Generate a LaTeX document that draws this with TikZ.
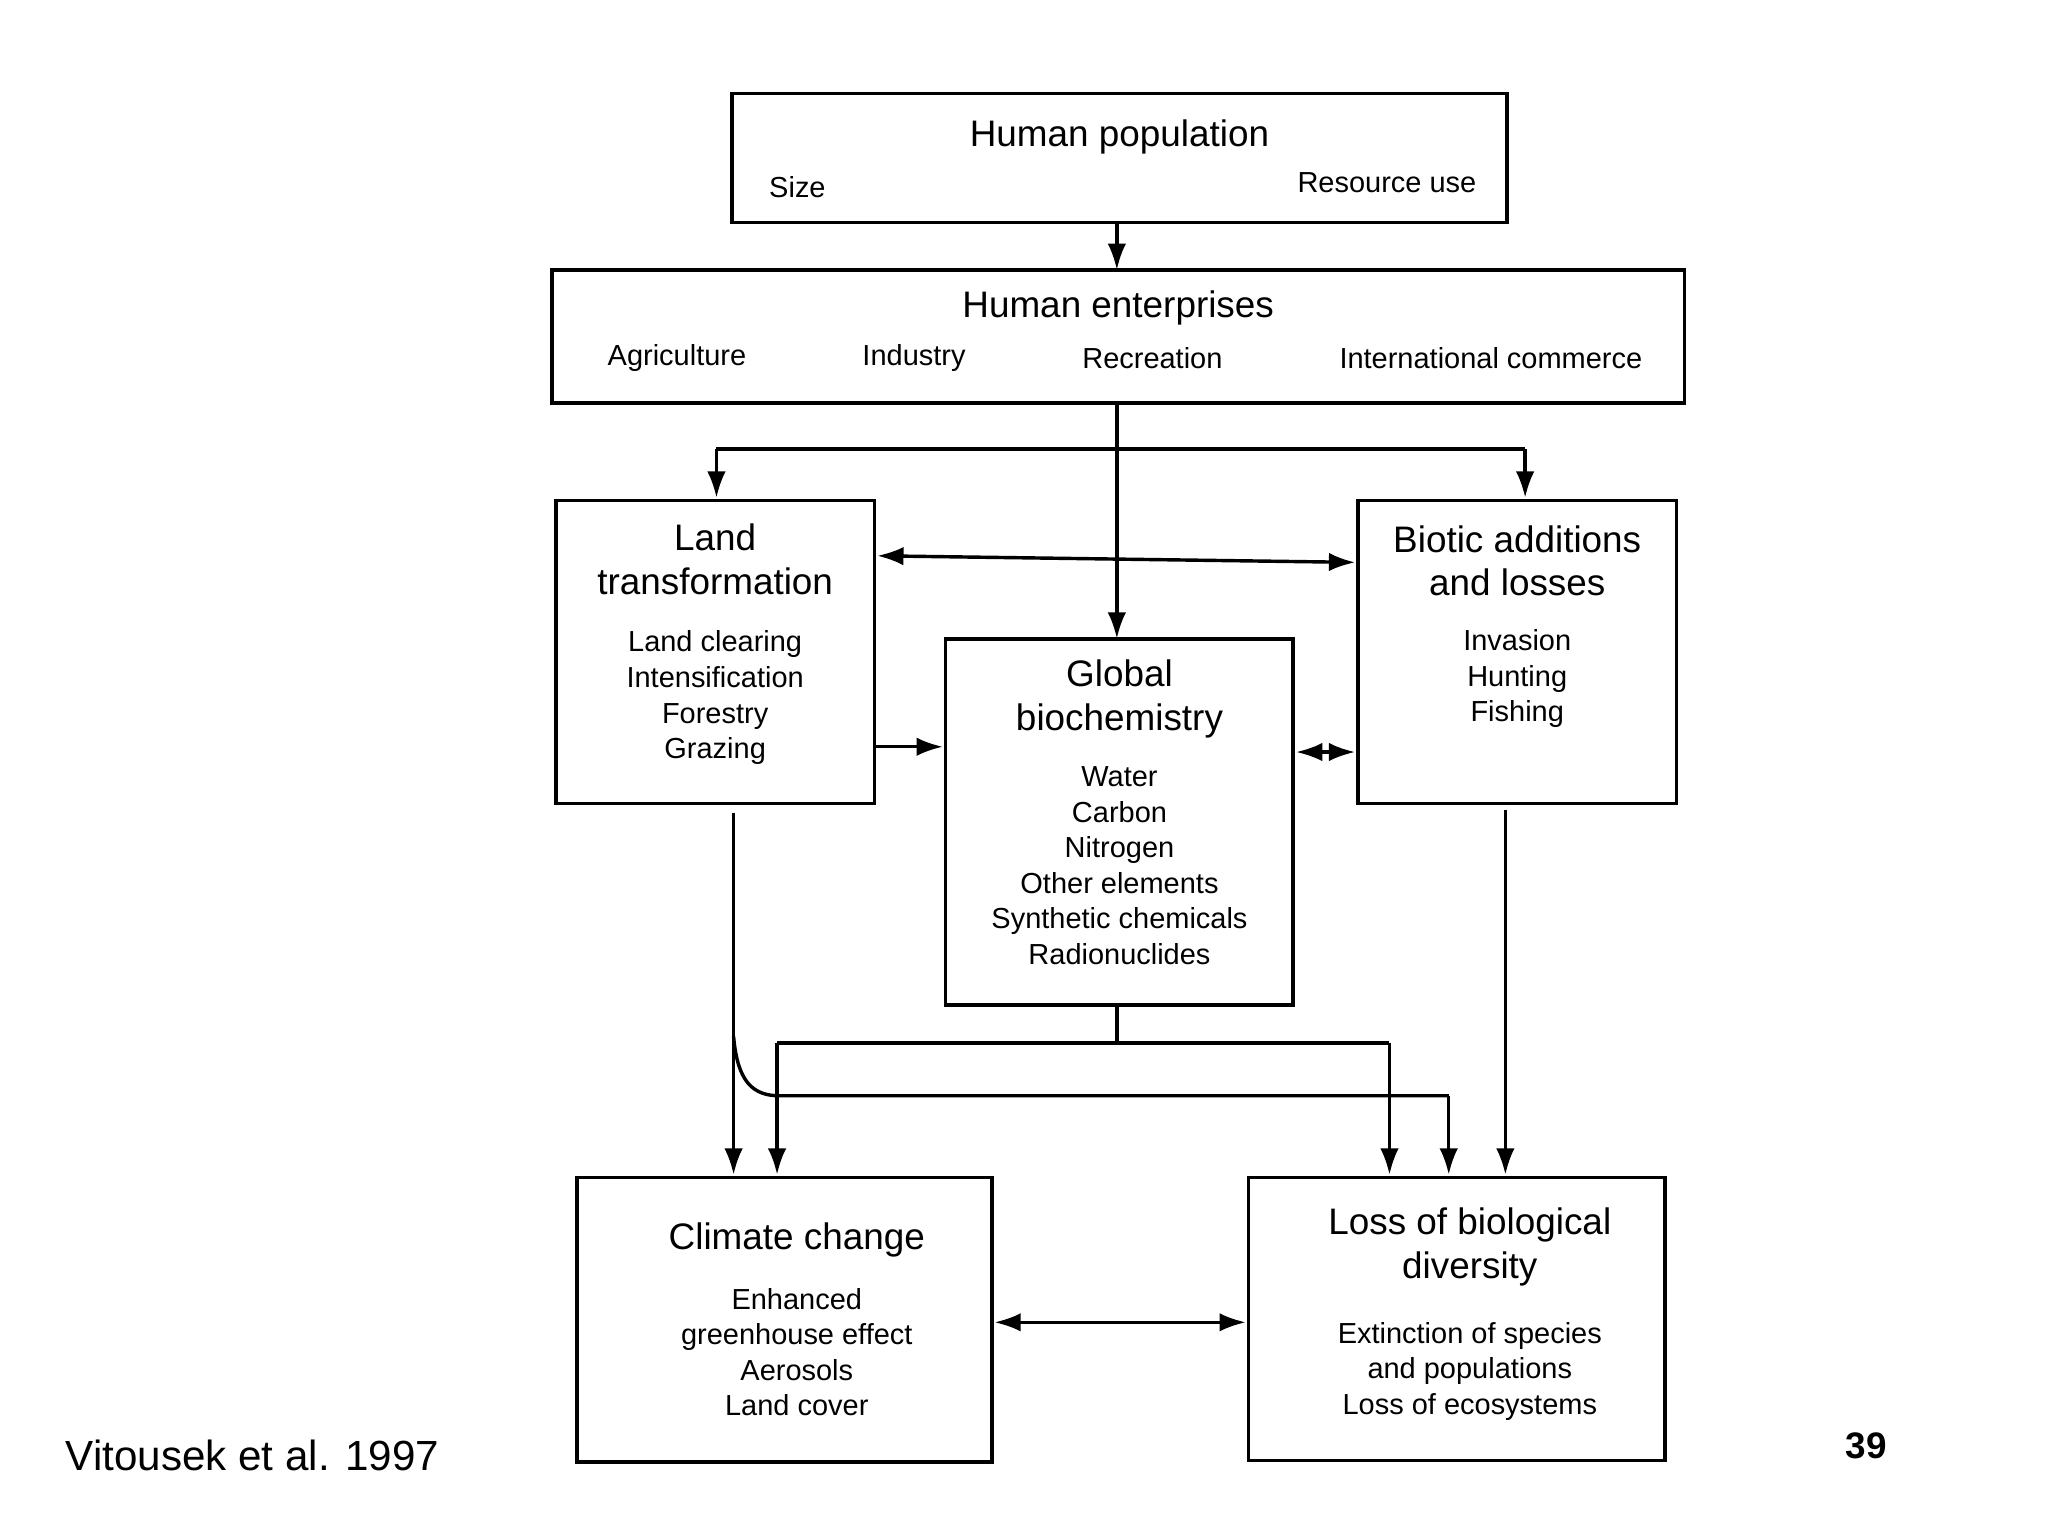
\documentclass[tikz,border=0pt]{standalone}
\usepackage{fontspec}
\setmainfont{Liberation Sans}
\usetikzlibrary{arrows.meta}
\begin{document}
\begin{tikzpicture}[x=0.5pt,y=-0.5pt,
  box/.style={draw,line width=1.4pt},
  ln/.style={line width=1.3pt},
  ar/.style={ln,-{Latex[length=10pt,width=7pt]}},
  dar/.style={ln,{Latex[length=10pt,width=7pt]}-{Latex[length=10pt,width=7pt]}},
  ttl/.style={font=\fontsize{14}{16.5}\selectfont,align=center,anchor=north},
  itm/.style={font=\fontsize{11}{13.5}\selectfont,align=center,anchor=north}]
\useasboundingbox (0,0) rectangle (1555,1166);
\draw[box] (556,71) rectangle (1144,169) node[coordinate] (hpc) {};
\coordinate (hpb) at (848,169);
\node[ttl] (hpt) at (850,84) {Human population};
\node[itm,anchor=west] (sz) at (577,142) {Size};
\node[itm,anchor=east] (ru) at (1128,139) {Resource use};
\draw[box] (419,205) rectangle (1279,306);
\coordinate (het) at (848,205); \coordinate (heb) at (848,306);
\node[ttl] (het2) at (849,214) {Human enterprises};
\node[itm,anchor=center] (ag) at (514,272) {Agriculture};
\node[itm,anchor=center] (in) at (694,272) {Industry};
\node[itm,anchor=center] (re) at (875,272) {Recreation};
\node[itm,anchor=center] (ic) at (1132,272) {International commerce};

\draw[box] (422,380) rectangle (664,610);
\node[ttl] (lt) at (543,391) {Land\\transformation};
\node[itm] (lti) at (543,472) {Land clearing\\Intensification\\Forestry\\Grazing};
\draw[box] (1031,380) rectangle (1273,610);
\node[ttl] (ba) at (1152,392) {Biotic additions\\and losses};
\node[itm] (bai) at (1152,471) {Invasion\\Hunting\\Fishing};
\draw[box] (718,485) rectangle (982,763);
\node[ttl] (gb) at (850,494) {Global\\biochemistry};
\node[itm] (gbi) at (850,575) {Water\\Carbon\\Nitrogen\\Other elements\\Synthetic chemicals\\Radionuclides};
\draw[box] (438,894) rectangle (753,1110);
\node[ttl] (cc) at (605,921) {Climate change};
\node[itm] (cci) at (605,971) {Enhanced\\greenhouse effect\\Aerosols\\Land cover};
\draw[box] (948,894) rectangle (1264,1109);
\node[ttl] (lb) at (1116,910) {Loss of biological\\diversity};
\node[itm] (lbi) at (1116,997) {Extinction of species\\and populations\\Loss of ecosystems};

\draw[ar] (hpb) -- (het);
\draw[ar] (heb) -- (848,485);
\draw[ln] (544,341) -- (1158,341);
\draw[ar] (544,341) -- (544,378);
\draw[ar] (1158,341) -- (1158,378);
\draw[dar] (666,422) -- (1029,427);
\draw[ar] (664,567) -- (716,567);
\draw[dar] (984,571) -- (1029,571);
\draw[ar] (557,617) -- (557,892);
\draw[ln] (557,787) .. controls (560,822) and (572,832) .. (592,832) -- (1100,832);
\draw[ar] (1100,832) -- (1100,892);
\draw[ln] (848,763) -- (848,792);
\draw[ln] (590,792) -- (1055,792);
\draw[ar] (590,792) -- (590,892);
\draw[ar] (1055,792) -- (1055,892);
\draw[ar] (1143,615) -- (1143,892);
\draw[dar] (755,1004) -- (946,1004);

\node[font=\fontsize{16}{19}\selectfont,anchor=west] (cite) at (43,1105) {Vitousek et al. 1997};
\node[font=\fontsize{14}{17}\selectfont\bfseries] (pg) at (1417,1098) {39};
\end{tikzpicture}
\end{document}
